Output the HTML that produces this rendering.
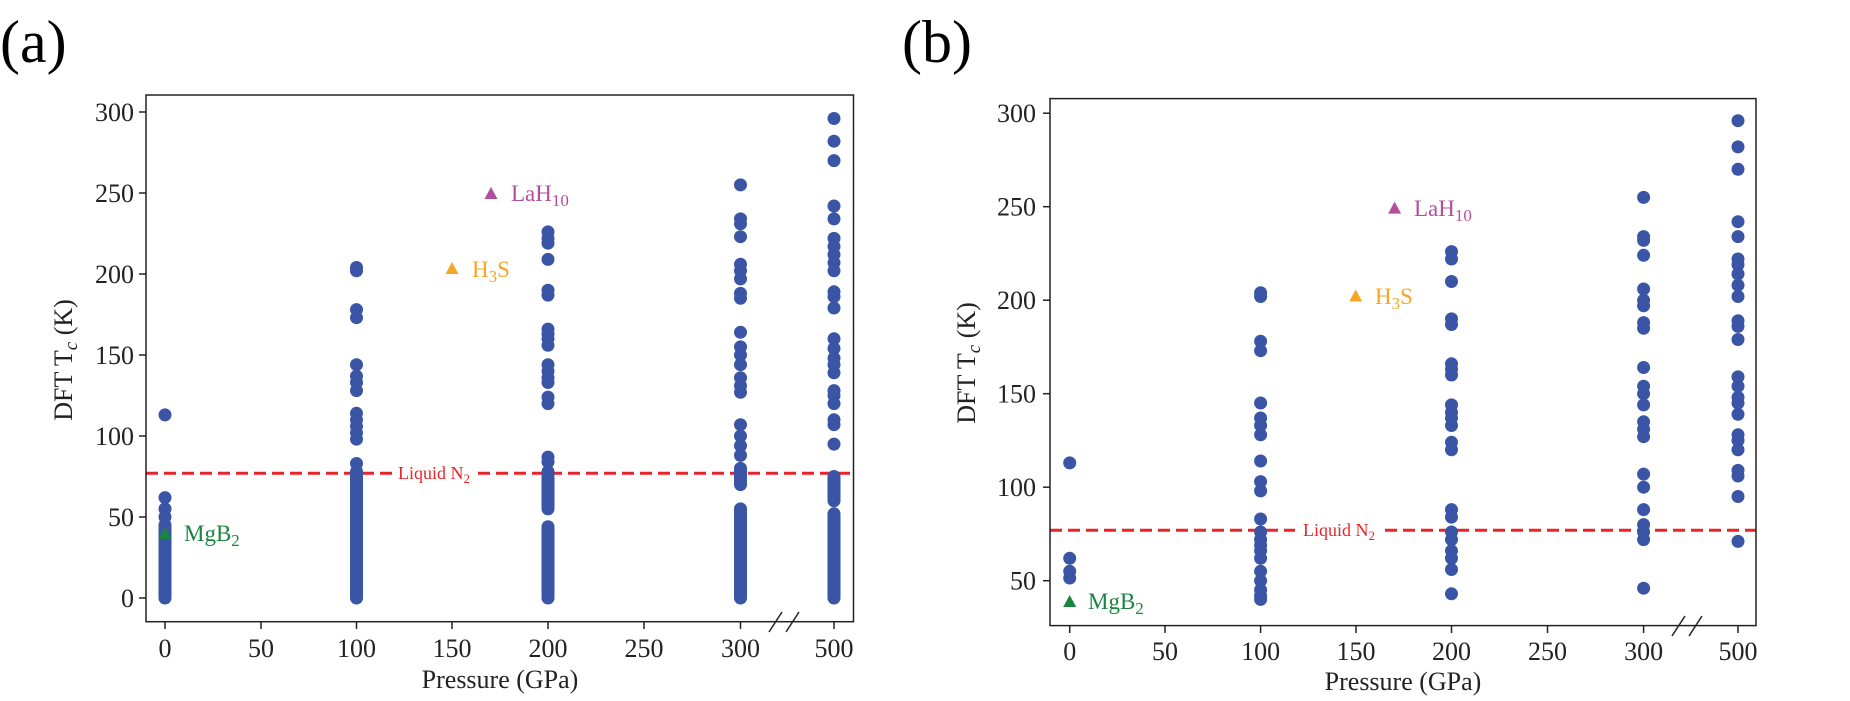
<!DOCTYPE html>
<html><head><meta charset="utf-8"><style>
html,body{margin:0;padding:0;background:#fff;}
svg{display:block;}
text{font-family:"Liberation Serif",serif;}
</style></head><body>
<svg width="1850" height="701" viewBox="0 0 1850 701" xmlns="http://www.w3.org/2000/svg">
<text x="0" y="62" font-size="60">(a)</text>
<text x="902" y="62" font-size="60">(b)</text>

<!-- ===== Panel A ===== -->
<line x1="146" y1="473.3" x2="392" y2="473.3" stroke="#e8242a" stroke-width="3" stroke-dasharray="12,6"/>
<line x1="478" y1="473.3" x2="853" y2="473.3" stroke="#e8242a" stroke-width="3" stroke-dasharray="12,6"/>
<text x="434" y="479" font-size="18" fill="#e8242a" text-anchor="middle">Liquid N<tspan font-size="13" dy="4">2</tspan></text>
<g fill="#3a55a5" stroke="none">
<g stroke="#3a55a5" stroke-width="13" stroke-linecap="round">
<line x1="165" y1="525" x2="165" y2="598"/>
<line x1="356.5" y1="471.6" x2="356.5" y2="598"/>
<line x1="548" y1="471.6" x2="548" y2="508.9"/>
<line x1="548" y1="526.7" x2="548" y2="598"/>
<line x1="740.5" y1="468.4" x2="740.5" y2="484.6"/>
<line x1="740.5" y1="508.9" x2="740.5" y2="598"/>
<line x1="834" y1="476.5" x2="834" y2="500.8"/>
<line x1="834" y1="513.8" x2="834" y2="598"/>
</g>
<circle cx="165" cy="414.9" r="6.5"/><circle cx="165" cy="497.6" r="6.5"/><circle cx="165" cy="508.9" r="6.5"/><circle cx="165" cy="517" r="6.5"/>
<circle cx="356.5" cy="267.5" r="6.5"/><circle cx="356.5" cy="270.8" r="6.5"/><circle cx="356.5" cy="309.6" r="6.5"/><circle cx="356.5" cy="317.7" r="6.5"/><circle cx="356.5" cy="364.7" r="6.5"/><circle cx="356.5" cy="376.1" r="6.5"/><circle cx="356.5" cy="382.5" r="6.5"/><circle cx="356.5" cy="390.6" r="6.5"/><circle cx="356.5" cy="413.3" r="6.5"/><circle cx="356.5" cy="419.8" r="6.5"/><circle cx="356.5" cy="426.3" r="6.5"/><circle cx="356.5" cy="432.8" r="6.5"/><circle cx="356.5" cy="439.2" r="6.5"/><circle cx="356.5" cy="463.5" r="6.5"/>
<circle cx="548" cy="231.9" r="6.5"/><circle cx="548" cy="238.4" r="6.5"/><circle cx="548" cy="243.2" r="6.5"/><circle cx="548" cy="259.4" r="6.5"/><circle cx="548" cy="290.2" r="6.5"/><circle cx="548" cy="295.1" r="6.5"/><circle cx="548" cy="329.1" r="6.5"/><circle cx="548" cy="333.9" r="6.5"/><circle cx="548" cy="338.8" r="6.5"/><circle cx="548" cy="345.3" r="6.5"/><circle cx="548" cy="364.7" r="6.5"/><circle cx="548" cy="371.2" r="6.5"/><circle cx="548" cy="377.7" r="6.5"/><circle cx="548" cy="382.5" r="6.5"/><circle cx="548" cy="397.1" r="6.5"/><circle cx="548" cy="403.6" r="6.5"/><circle cx="548" cy="457.1" r="6.5"/><circle cx="548" cy="461.9" r="6.5"/>
<circle cx="740.5" cy="184.9" r="6.5"/><circle cx="740.5" cy="218.9" r="6.5"/><circle cx="740.5" cy="223.8" r="6.5"/><circle cx="740.5" cy="236.7" r="6.5"/><circle cx="740.5" cy="264.3" r="6.5"/><circle cx="740.5" cy="270.8" r="6.5"/><circle cx="740.5" cy="278.9" r="6.5"/><circle cx="740.5" cy="293.4" r="6.5"/><circle cx="740.5" cy="298.3" r="6.5"/><circle cx="740.5" cy="332.3" r="6.5"/><circle cx="740.5" cy="346.9" r="6.5"/><circle cx="740.5" cy="355" r="6.5"/><circle cx="740.5" cy="364.7" r="6.5"/><circle cx="740.5" cy="377.7" r="6.5"/><circle cx="740.5" cy="385.8" r="6.5"/><circle cx="740.5" cy="392.3" r="6.5"/><circle cx="740.5" cy="424.7" r="6.5"/><circle cx="740.5" cy="436" r="6.5"/><circle cx="740.5" cy="445.7" r="6.5"/><circle cx="740.5" cy="455.4" r="6.5"/>
<circle cx="834" cy="118.5" r="6.5"/><circle cx="834" cy="141.2" r="6.5"/><circle cx="834" cy="160.6" r="6.5"/><circle cx="834" cy="206" r="6.5"/><circle cx="834" cy="218.9" r="6.5"/><circle cx="834" cy="238.4" r="6.5"/><circle cx="834" cy="246.5" r="6.5"/><circle cx="834" cy="254.6" r="6.5"/><circle cx="834" cy="262.7" r="6.5"/><circle cx="834" cy="270.8" r="6.5"/><circle cx="834" cy="291.8" r="6.5"/><circle cx="834" cy="296.7" r="6.5"/><circle cx="834" cy="308" r="6.5"/><circle cx="834" cy="338.8" r="6.5"/><circle cx="834" cy="348.5" r="6.5"/><circle cx="834" cy="358.2" r="6.5"/><circle cx="834" cy="364.7" r="6.5"/><circle cx="834" cy="372.8" r="6.5"/><circle cx="834" cy="390.6" r="6.5"/><circle cx="834" cy="395.5" r="6.5"/><circle cx="834" cy="403.6" r="6.5"/><circle cx="834" cy="419.8" r="6.5"/><circle cx="834" cy="424.7" r="6.5"/><circle cx="834" cy="444.1" r="6.5"/>
</g>
<polygon points="165,527 158.5,539 171.5,539" fill="#1a8540"/>
<text x="184" y="541" font-size="23" fill="#1a8540">MgB<tspan font-size="17" dy="5">2</tspan></text>
<polygon points="452,262 445.5,274 458.5,274" fill="#f5a623"/>
<text x="472" y="277" font-size="23" fill="#f5a623">H<tspan font-size="17" dy="5">3</tspan><tspan dy="-5">S</tspan></text>
<polygon points="491,187 484.5,199 497.5,199" fill="#b24f9c"/>
<text x="511" y="201" font-size="23" fill="#b24f9c">LaH<tspan font-size="17" dy="5">10</tspan></text>
<rect x="146" y="95" width="707.5" height="526.7" fill="none" stroke="#222" stroke-width="1.5"/>
<g stroke="#222" stroke-width="1.5">
<line x1="139" y1="112" x2="146" y2="112"/><line x1="139" y1="193" x2="146" y2="193"/><line x1="139" y1="274" x2="146" y2="274"/><line x1="139" y1="355" x2="146" y2="355"/><line x1="139" y1="436" x2="146" y2="436"/><line x1="139" y1="517" x2="146" y2="517"/><line x1="139" y1="598" x2="146" y2="598"/>
<line x1="165" y1="622" x2="165" y2="629"/><line x1="261" y1="622" x2="261" y2="629"/><line x1="356.5" y1="622" x2="356.5" y2="629"/><line x1="452" y1="622" x2="452" y2="629"/><line x1="548" y1="622" x2="548" y2="629"/><line x1="644" y1="622" x2="644" y2="629"/><line x1="740.5" y1="622" x2="740.5" y2="629"/><line x1="834" y1="622" x2="834" y2="629"/>
<line x1="769" y1="632" x2="782" y2="612"/><line x1="786" y1="632" x2="799" y2="612"/>
</g>
<g font-size="26" text-anchor="end" fill="#222">
<text x="134" y="121">300</text><text x="134" y="202">250</text><text x="134" y="283">200</text><text x="134" y="364">150</text><text x="134" y="445">100</text><text x="134" y="526">50</text><text x="134" y="607">0</text>
</g>
<g font-size="26" text-anchor="middle" fill="#222">
<text x="165" y="657">0</text><text x="261" y="657">50</text><text x="356.5" y="657">100</text><text x="452" y="657">150</text><text x="548" y="657">200</text><text x="644" y="657">250</text><text x="740.5" y="657">300</text><text x="834" y="657">500</text>
<text x="500" y="688">Pressure (GPa)</text>
<text transform="translate(72,360) rotate(-90)">DFT T<tspan font-style="italic" font-size="19" dy="5">c</tspan><tspan dy="-5"> (K)</tspan></text>
</g>

<!-- ===== Panel B ===== -->
<line x1="1050" y1="530.2" x2="1295" y2="530.2" stroke="#e8242a" stroke-width="3" stroke-dasharray="12,6"/>
<line x1="1385" y1="530.2" x2="1756" y2="530.2" stroke="#e8242a" stroke-width="3" stroke-dasharray="12,6"/>
<text x="1339" y="536" font-size="18" fill="#e8242a" text-anchor="middle">Liquid N<tspan font-size="13" dy="4">2</tspan></text>
<g fill="#3a55a5">
<circle cx="1069.7" cy="462.9" r="6.5"/><circle cx="1069.7" cy="558.3" r="6.5"/><circle cx="1069.7" cy="571.3" r="6.5"/><circle cx="1069.7" cy="578" r="6.5"/>
<circle cx="1260.6" cy="292.7" r="6.5"/><circle cx="1260.6" cy="296.5" r="6.5"/><circle cx="1260.6" cy="341.3" r="6.5"/><circle cx="1260.6" cy="350.7" r="6.5"/><circle cx="1260.6" cy="403" r="6.5"/><circle cx="1260.6" cy="418" r="6.5"/><circle cx="1260.6" cy="425.5" r="6.5"/><circle cx="1260.6" cy="434.8" r="6.5"/><circle cx="1260.6" cy="461" r="6.5"/><circle cx="1260.6" cy="481.6" r="6.5"/><circle cx="1260.6" cy="490.9" r="6.5"/><circle cx="1260.6" cy="519" r="6.5"/><circle cx="1260.6" cy="532" r="6.5"/><circle cx="1260.6" cy="539.6" r="6.5"/><circle cx="1260.6" cy="545.2" r="6.5"/><circle cx="1260.6" cy="550.8" r="6.5"/><circle cx="1260.6" cy="558.3" r="6.5"/><circle cx="1260.6" cy="571.3" r="6.5"/><circle cx="1260.6" cy="580.7" r="6.5"/><circle cx="1260.6" cy="590" r="6.5"/><circle cx="1260.6" cy="595.7" r="6.5"/><circle cx="1260.6" cy="599.4" r="6.5"/>
<circle cx="1451.5" cy="251.6" r="6.5"/><circle cx="1451.5" cy="259" r="6.5"/><circle cx="1451.5" cy="281.5" r="6.5"/><circle cx="1451.5" cy="318.9" r="6.5"/><circle cx="1451.5" cy="324.5" r="6.5"/><circle cx="1451.5" cy="363.8" r="6.5"/><circle cx="1451.5" cy="369.4" r="6.5"/><circle cx="1451.5" cy="375" r="6.5"/><circle cx="1451.5" cy="404.9" r="6.5"/><circle cx="1451.5" cy="412.4" r="6.5"/><circle cx="1451.5" cy="418" r="6.5"/><circle cx="1451.5" cy="425.5" r="6.5"/><circle cx="1451.5" cy="442.3" r="6.5"/><circle cx="1451.5" cy="449.8" r="6.5"/><circle cx="1451.5" cy="509.6" r="6.5"/><circle cx="1451.5" cy="517.1" r="6.5"/><circle cx="1451.5" cy="532" r="6.5"/><circle cx="1451.5" cy="539.6" r="6.5"/><circle cx="1451.5" cy="550.8" r="6.5"/><circle cx="1451.5" cy="558.3" r="6.5"/><circle cx="1451.5" cy="569.5" r="6.5"/><circle cx="1451.5" cy="593.8" r="6.5"/>
<circle cx="1643.6" cy="197.4" r="6.5"/><circle cx="1643.6" cy="236.6" r="6.5"/><circle cx="1643.6" cy="240.4" r="6.5"/><circle cx="1643.6" cy="255.3" r="6.5"/><circle cx="1643.6" cy="289" r="6.5"/><circle cx="1643.6" cy="300.2" r="6.5"/><circle cx="1643.6" cy="305.8" r="6.5"/><circle cx="1643.6" cy="322.6" r="6.5"/><circle cx="1643.6" cy="328.3" r="6.5"/><circle cx="1643.6" cy="367.5" r="6.5"/><circle cx="1643.6" cy="386.2" r="6.5"/><circle cx="1643.6" cy="393.7" r="6.5"/><circle cx="1643.6" cy="404.9" r="6.5"/><circle cx="1643.6" cy="421.8" r="6.5"/><circle cx="1643.6" cy="429.2" r="6.5"/><circle cx="1643.6" cy="436.7" r="6.5"/><circle cx="1643.6" cy="474.1" r="6.5"/><circle cx="1643.6" cy="487.2" r="6.5"/><circle cx="1643.6" cy="509.6" r="6.5"/><circle cx="1643.6" cy="524.6" r="6.5"/><circle cx="1643.6" cy="532" r="6.5"/><circle cx="1643.6" cy="539.6" r="6.5"/><circle cx="1643.6" cy="588.2" r="6.5"/>
<circle cx="1738" cy="120.7" r="6.5"/><circle cx="1738" cy="146.9" r="6.5"/><circle cx="1738" cy="169.3" r="6.5"/><circle cx="1738" cy="221.7" r="6.5"/><circle cx="1738" cy="236.6" r="6.5"/><circle cx="1738" cy="259" r="6.5"/><circle cx="1738" cy="264.7" r="6.5"/><circle cx="1738" cy="274" r="6.5"/><circle cx="1738" cy="285.2" r="6.5"/><circle cx="1738" cy="296.5" r="6.5"/><circle cx="1738" cy="320.8" r="6.5"/><circle cx="1738" cy="326.4" r="6.5"/><circle cx="1738" cy="339.5" r="6.5"/><circle cx="1738" cy="376.9" r="6.5"/><circle cx="1738" cy="386.2" r="6.5"/><circle cx="1738" cy="397.4" r="6.5"/><circle cx="1738" cy="403" r="6.5"/><circle cx="1738" cy="414.3" r="6.5"/><circle cx="1738" cy="434.8" r="6.5"/><circle cx="1738" cy="440.5" r="6.5"/><circle cx="1738" cy="449.8" r="6.5"/><circle cx="1738" cy="470.4" r="6.5"/><circle cx="1738" cy="476" r="6.5"/><circle cx="1738" cy="496.5" r="6.5"/><circle cx="1738" cy="541.4" r="6.5"/>
</g>
<polygon points="1069.7,595 1063.2,607 1076.2,607" fill="#1a8540"/>
<text x="1088" y="609" font-size="23" fill="#1a8540">MgB<tspan font-size="17" dy="5">2</tspan></text>
<polygon points="1355.7,289.5 1349.2,301.5 1362.2,301.5" fill="#f5a623"/>
<text x="1375" y="304" font-size="23" fill="#f5a623">H<tspan font-size="17" dy="5">3</tspan><tspan dy="-5">S</tspan></text>
<polygon points="1394.6,201.6 1388.1,213.6 1401.1,213.6" fill="#b24f9c"/>
<text x="1414" y="216" font-size="23" fill="#b24f9c">LaH<tspan font-size="17" dy="5">10</tspan></text>
<rect x="1050" y="98.6" width="706" height="527" fill="none" stroke="#222" stroke-width="1.5"/>
<g stroke="#222" stroke-width="1.5">
<line x1="1043" y1="113.2" x2="1050" y2="113.2"/><line x1="1043" y1="206.7" x2="1050" y2="206.7"/><line x1="1043" y1="300.2" x2="1050" y2="300.2"/><line x1="1043" y1="393.7" x2="1050" y2="393.7"/><line x1="1043" y1="487.2" x2="1050" y2="487.2"/><line x1="1043" y1="580.7" x2="1050" y2="580.7"/>
<line x1="1069.7" y1="626" x2="1069.7" y2="633"/><line x1="1165" y1="626" x2="1165" y2="633"/><line x1="1260.6" y1="626" x2="1260.6" y2="633"/><line x1="1356" y1="626" x2="1356" y2="633"/><line x1="1451.5" y1="626" x2="1451.5" y2="633"/><line x1="1547.5" y1="626" x2="1547.5" y2="633"/><line x1="1643.6" y1="626" x2="1643.6" y2="633"/><line x1="1738" y1="626" x2="1738" y2="633"/>
<line x1="1672" y1="636" x2="1685" y2="616"/><line x1="1689" y1="636" x2="1702" y2="616"/>
</g>
<g font-size="26" text-anchor="end" fill="#222">
<text x="1036" y="122">300</text><text x="1036" y="215.7">250</text><text x="1036" y="309.2">200</text><text x="1036" y="402.7">150</text><text x="1036" y="496.2">100</text><text x="1036" y="589.7">50</text>
</g>
<g font-size="26" text-anchor="middle" fill="#222">
<text x="1069.7" y="660">0</text><text x="1165" y="660">50</text><text x="1260.6" y="660">100</text><text x="1356" y="660">150</text><text x="1451.5" y="660">200</text><text x="1547.5" y="660">250</text><text x="1643.6" y="660">300</text><text x="1738" y="660">500</text>
<text x="1403" y="690">Pressure (GPa)</text>
<text transform="translate(975,363) rotate(-90)">DFT T<tspan font-style="italic" font-size="19" dy="5">c</tspan><tspan dy="-5"> (K)</tspan></text>
</g>
</svg>
</body></html>
